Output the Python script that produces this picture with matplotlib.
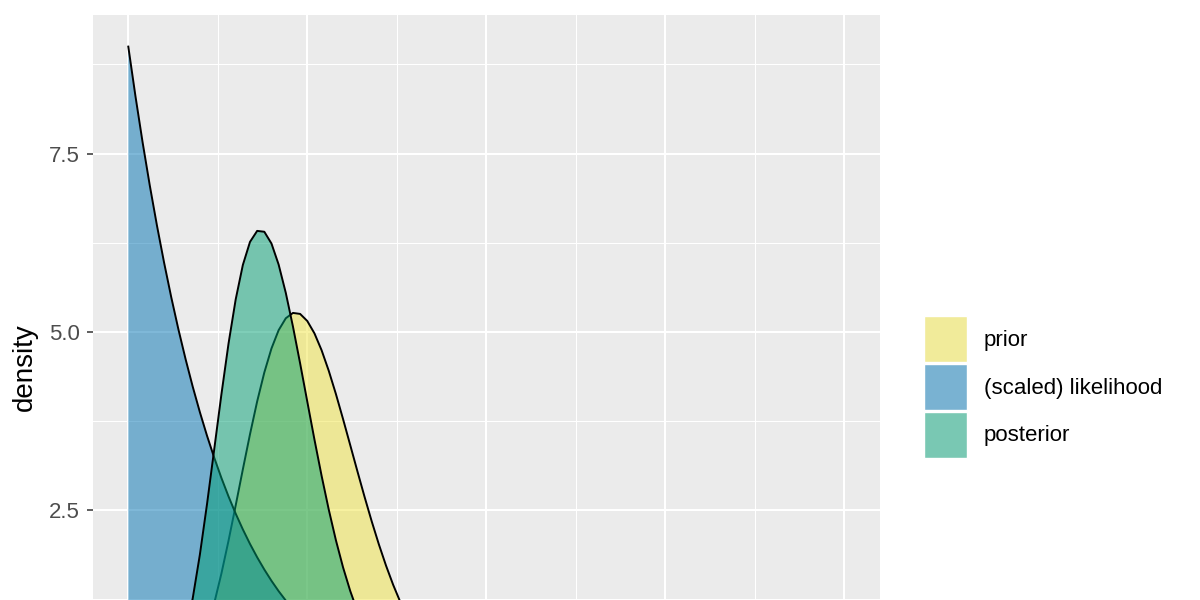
import matplotlib
matplotlib.use("Agg")
import matplotlib.pyplot as plt
from matplotlib.patches import Patch
from matplotlib.ticker import MultipleLocator, FormatStrFormatter

plt.rcParams['font.family'] = ['Liberation Sans', 'DejaVu Sans']

# ---- data (density values, x = 0.00 .. 0.50 step 0.01) ----
theta = [round(i * 0.01, 2) for i in range(51)]
prior = [0, 0, 0, 0.001, 0.004, 0.015, 0.043, 0.098, 0.194, 0.345, 0.559, 0.843, 1.195,
         1.609, 2.072, 2.567, 3.072, 3.565, 4.025, 4.431, 4.768, 5.024, 5.191, 5.266, 5.252,
         5.153, 4.98, 4.743, 4.455, 4.129, 3.777, 3.413, 3.047, 2.688, 2.344, 2.021, 1.723,
         1.453, 1.212, 1, 0.817, 0.659, 0.527, 0.416, 0.326, 0.252, 0.193, 0.146, 0.109,
         0.08, 0.059]
likelihood = [9, 8.305, 7.657, 7.054, 6.493, 5.971, 5.486, 5.036, 4.619, 4.232, 3.874,
              3.543, 3.237, 2.954, 2.693, 2.452, 2.231, 2.027, 1.84, 1.668, 1.51, 1.365,
              1.233, 1.112, 1.002, 0.901, 0.809, 0.726, 0.65, 0.581, 0.519, 0.462, 0.411,
              0.365, 0.324, 0.287, 0.253, 0.223, 0.197, 0.173, 0.151, 0.132, 0.115, 0.1,
              0.087, 0.075, 0.065, 0.056, 0.048, 0.041, 0.035]
posterior = [0, 0, 0, 0.004, 0.023, 0.078, 0.202, 0.427, 0.778, 1.265, 1.878, 2.588,
             3.352, 4.119, 4.836, 5.455, 5.938, 6.262, 6.416, 6.404, 6.239, 5.944, 5.547,
             5.075, 4.559, 4.024, 3.492, 2.983, 2.509, 2.079, 1.698, 1.368, 1.086, 0.851,
             0.658, 0.502, 0.378, 0.281, 0.206, 0.15, 0.107, 0.076, 0.053, 0.036, 0.025,
             0.016, 0.011, 0.007, 0.005, 0.003, 0.002]

series_names = ["prior", "(scaled) likelihood", "posterior"]
series_values = [prior, likelihood, posterior]
series_colors = ["#F0E442", "#0072B2", "#009E73"]
key_colors = ["#F1EB9A", "#79B2D2", "#79C8B3"]   # fill alpha 0.5 over grey95 key

# ---- figure ----
W, H = 1200, 600
fig = plt.figure(figsize=(12, 6), dpi=100)
fig.patch.set_facecolor("white")

# panel in pixel coords (its lower part lies below the visible picture)
left_px, right_px, top_px, bottom_px = 92.5, 880, 14.5, 720.6
ax = fig.add_axes([left_px / W, 1 - bottom_px / H,
                   (right_px - left_px) / W, (bottom_px - top_px) / H])
ax.set_facecolor("#EBEBEB")
for s in ax.spines.values():
    s.set_visible(False)

ax.set_xlim(-0.05, 1.05)
ax.set_ylim(-0.45, 9.45)

ax.xaxis.set_major_locator(MultipleLocator(0.25))
ax.xaxis.set_minor_locator(MultipleLocator(0.125))
ax.yaxis.set_major_locator(MultipleLocator(2.5))
ax.yaxis.set_minor_locator(MultipleLocator(1.25))
ax.grid(which="major", color="white", linewidth=1.5, zorder=0)
ax.grid(which="minor", color="white", linewidth=0.75, zorder=0)
ax.set_axisbelow(True)

ax.tick_params(axis="both", which="major", length=4.2, width=1.1, color="#333333",
               labelsize=16, labelcolor="#4D4D4D", pad=5)
ax.tick_params(axis="both", which="minor", length=0)
ax.tick_params(axis="x", which="both", bottom=False, labelbottom=False)
ax.yaxis.set_major_formatter(FormatStrFormatter("%.1f"))
ax.set_yticks([2.5, 5.0, 7.5])

for i, (vals, col) in enumerate(zip(series_values, series_colors)):
    ax.fill_between(theta, 0, vals, facecolor=col, alpha=0.5, linewidth=0, zorder=2 + 2 * i)
    ax.plot(theta, vals, color="black", linewidth=1.4, zorder=3 + 2 * i,
            solid_joinstyle="round")

ax.set_ylabel("density", fontsize=20, color="black", labelpad=8)

handles = [Patch(facecolor=c, edgecolor="white", linewidth=1.0) for c in key_colors]
fig.legend(handles, series_names, loc="center left",
           bbox_to_anchor=(924 / W, 1 - 387 / H),
           frameon=False, fontsize=16, handlelength=1.95, handleheight=2.8,
           labelspacing=0.08, handletextpad=0.75, borderpad=0, borderaxespad=0)

fig.savefig("out.png", dpi=100)
